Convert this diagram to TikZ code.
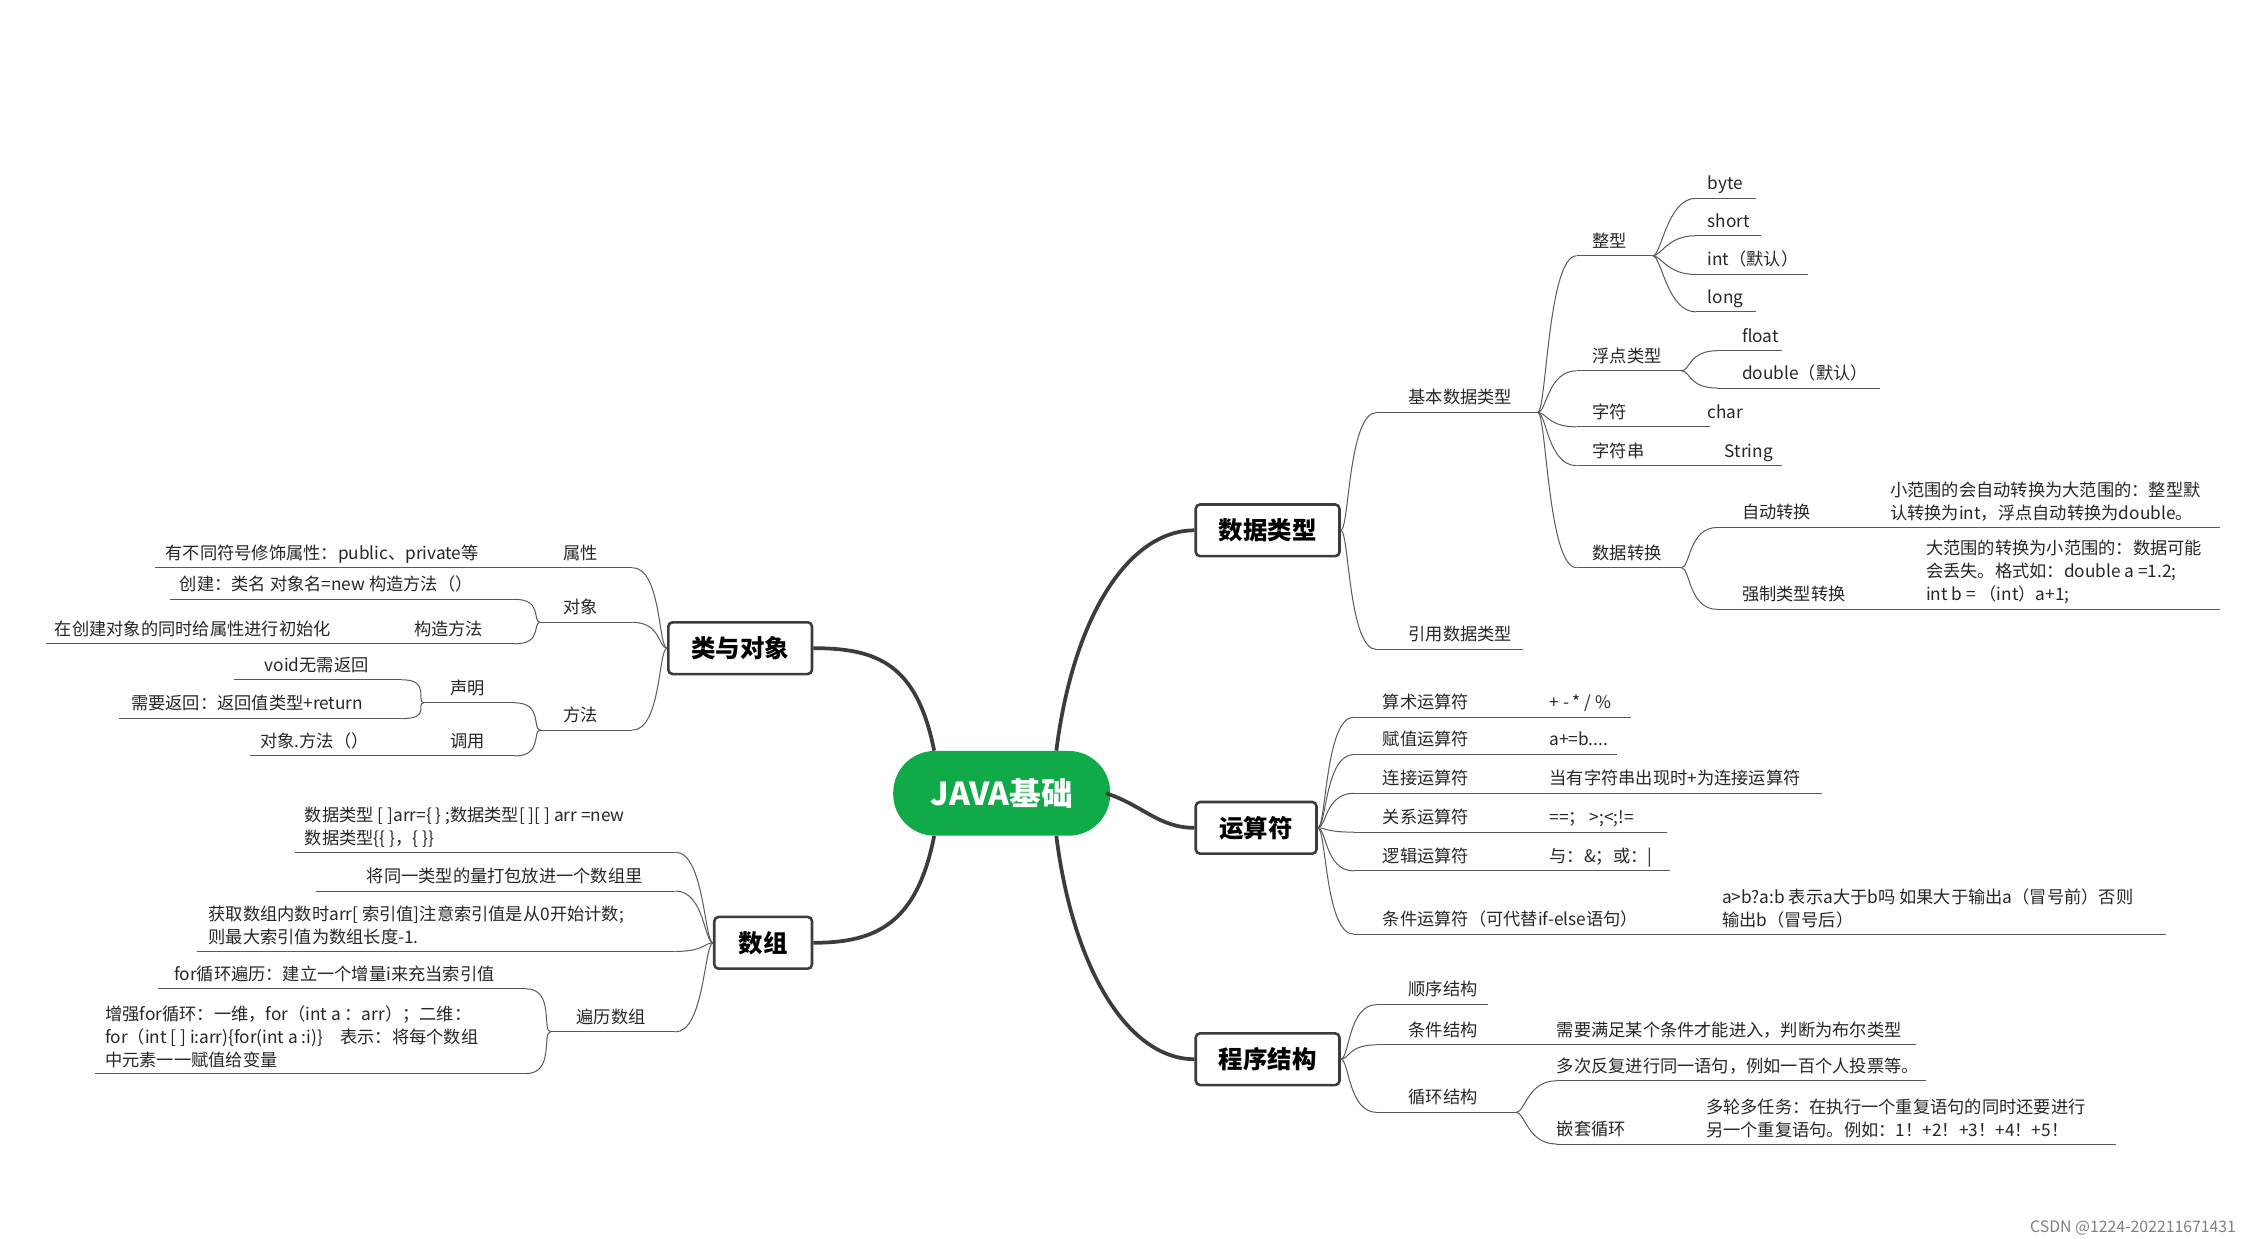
\documentclass[tikz,border=0pt]{standalone}
\usepackage{fontspec}
\setmainfont{Noto Sans CJK SC}
\definecolor{jgreen}{RGB}{16,170,72}
\definecolor{boxc}{RGB}{60,60,60}
\definecolor{linec}{RGB}{90,90,90}
\newcommand\leaf[4]{\coordinate (#1-s) at (#2,#4);\coordinate (#1-e) at (#3,#4);\draw[tl] (#1-s) -- (#1-e);}
\newcommand\brR[2]{\draw[tl] (#1) .. controls ([xshift=6]#1) and ([xshift=-20]#2) .. (#2);}
\newcommand\brL[2]{\draw[tl] (#1) .. controls ([xshift=-6]#1) and ([xshift=20]#2) .. (#2);}
\newcommand\tx[3]{\node[txt] at (#1,#2) {#3};}
\newcommand\tml[3]{\node[mtxt] at (#1,#2) {#3};}
\begin{document}
\begin{tikzpicture}[x=1pt,y=-1pt,
  tl/.style={draw=linec,line width=0.7pt},
  thick/.style={draw=boxc,line width=2.6pt},
  txt/.style={anchor=base west,inner sep=0,font=\fontsize{12}{16}\selectfont,text=black!85},
  mtxt/.style={anchor=south west,inner sep=0,align=left,font=\fontsize{12}{16}\selectfont,text=black!85},
  box/.style={draw=boxc,line width=1.8pt,rounded corners=3pt,fill=white,font=\fontsize{17}{20}\selectfont\bfseries,minimum height=36pt,inner xsep=0pt}]
\useasboundingbox (0,0) rectangle (1560,862);
% central
\node[fill=jgreen,rounded corners=29pt,minimum width=151pt,minimum height=59pt,text=white,font=\fontsize{22}{24}\selectfont\bfseries] (java) at (697,552) {JAVA基础};
\node[box,minimum width=100pt] (dt) at (882,369) {数据类型};
\node[box,minimum width=84pt] (ys) at (874,576) {运算符};
\node[box,minimum width=100pt] (cx) at (882,737) {程序结构};
\node[box,minimum width=100pt] (lo) at (515,451) {类与对象};
\node[box,minimum width=68pt] (sz) at (531,656) {数组};
\draw[thick] ([xshift=38]java.north) .. controls +(12,-95) and ([xshift=-45]dt.west) .. (dt.west);
\draw[thick] ([xshift=-3]java.east) .. controls +(25,8) and ([xshift=-25]ys.west) .. (ys.west);
\draw[thick] ([xshift=38]java.south) .. controls +(12,95) and ([xshift=-45]cx.west) .. (cx.west);
\draw[thick] ([xshift=-47]java.north) .. controls +(-12,-60) and ([xshift=45]lo.east) .. (lo.east);
\draw[thick] ([xshift=-47]java.south) .. controls +(-12,60) and ([xshift=45]sz.east) .. (sz.east);
% ---------------- 数据类型
\leaf{jb}{958}{1070}{287}\leaf{yy}{958}{1060}{452}
\brR{dt.east}{jb-s}\brR{dt.east}{yy-s}
\tx{980}{281}{基本数据类型}\tx{980}{446}{引用数据类型}
\leaf{zx}{1097}{1150}{178}\leaf{fd}{1097}{1170}{258}\leaf{zf}{1097}{1190}{297}\leaf{zfc}{1097}{1240}{324}\leaf{zh}{1097}{1170}{395}
\foreach \c in {zx,fd,zf,zfc,zh}{\brR{jb-e}{\c-s}}
\tx{1108}{172}{整型}\tx{1108}{252}{浮点类型}\tx{1108}{291}{字符}\tx{1188}{291}{char}
\tx{1108}{318}{字符串}\tx{1200}{318}{String}\tx{1108}{389}{数据转换}
\leaf{by}{1180}{1222}{138}\leaf{sh}{1180}{1225}{164}\leaf{in}{1180}{1258}{191}\leaf{lo2}{1180}{1222}{217}
\foreach \c in {by,sh,in,lo2}{\brR{zx-e}{\c-s}}
\tx{1188}{132}{byte}\tx{1188}{158}{short}\tx{1188}{185}{int（默认）}\tx{1188}{211}{long}
\leaf{fl}{1195}{1240}{244}\leaf{db}{1195}{1308}{270}
\brR{fd-e}{fl-s}\brR{fd-e}{db-s}
\tx{1212}{238}{float}\tx{1212}{264}{double（默认）}
\leaf{au}{1195}{1545}{367}\leaf{fo}{1195}{1545}{424}
\brR{zh-e}{au-s}\brR{zh-e}{fo-s}
\tx{1212}{361}{自动转换}\tx{1212}{418}{强制类型转换}
\tml{1315}{363}{小范围的会自动转换为大范围的：整型默\\认转换为int，浮点自动转换为double。}
\tml{1340}{420}{大范围的转换为小范围的：数据可能\\会丢失。格式如：double a =1.2;\\int b = （int）a+1;}
% ---------------- 运算符
\leaf{ss}{942}{1135}{499}\leaf{fz}{942}{1125}{525}\leaf{lj}{942}{1268}{552}\leaf{gx}{942}{1160}{579}\leaf{lg}{942}{1162}{606}\leaf{tj}{942}{1507}{650}
\foreach \c in {ss,fz,lj,gx,lg,tj}{\brR{ys.east}{\c-s}}
\tx{962}{493}{算术运算符}\tx{1078}{493}{+ - * / \%}
\tx{962}{519}{赋值运算符}\tx{1078}{519}{a+=b....}
\tx{962}{546}{连接运算符}\tx{1078}{546}{当有字符串出现时+为连接运算符}
\tx{962}{573}{关系运算符}\tx{1078}{573}{==； >;<;!=}
\tx{962}{600}{逻辑运算符}\tx{1078}{600}{与：\&；或：|}
\tx{962}{644}{条件运算符（可代替if-else语句）}
\tml{1198}{646}{a>b?a:b 表示a大于b吗 如果大于输出a（冒号前）否则\\输出b（冒号后）}
% ---------------- 程序结构
\leaf{sx}{958}{1035}{699}\leaf{tjj}{958}{1333}{727}\leaf{xh}{958}{1055}{774}
\foreach \c in {sx,tjj,xh}{\brR{cx.east}{\c-s}}
\tx{980}{693}{顺序结构}\tx{980}{721}{条件结构}\tx{1083}{721}{需要满足某个条件才能进入，判断为布尔类型}
\tx{980}{768}{循环结构}
\leaf{fx}{1083}{1340}{752}\leaf{qt}{1083}{1472}{796}
\brR{xh-e}{fx-s}\brR{xh-e}{qt-s}
\tx{1083}{746}{多次反复进行同一语句，例如一百个人投票等。}
\tx{1083}{790}{嵌套循环}
\tml{1187}{792}{多轮多任务：在执行一个重复语句的同时还要进行\\另一个重复语句。例如：1！+2！+3！+4！+5！}
% ---------------- 类与对象
\leaf{sx2}{440}{108}{395}\leaf{dx}{440}{376}{433}\leaf{ff}{440}{376}{508}
\foreach \c in {sx2,dx,ff}{\brL{lo.west}{\c-s}}
\tx{392}{389}{属性}\tx{392}{427}{对象}\tx{392}{502}{方法}
\tx{115}{389}{有不同符号修饰属性：public、private等}
\leaf{cj}{358}{118}{417}\leaf{gz}{358}{32}{448}
\brL{dx-e}{cj-s}\brL{dx-e}{gz-s}
\tx{125}{411}{创建：类名 对象名=new 构造方法（）}
\tx{38}{442}{在创建对象的同时给属性进行初始化}\tx{288}{442}{构造方法}
\leaf{sm}{358}{295}{489}\leaf{dy}{358}{174}{526}
\brL{ff-e}{sm-s}\brL{ff-e}{dy-s}
\tx{313}{483}{声明}\tx{181}{520}{对象.方法（）}\tx{313}{520}{调用}
\leaf{vd}{280}{163}{473}\leaf{xy}{280}{83}{500}
\brL{sm-e}{vd-s}\brL{sm-e}{xy-s}
\tx{184}{467}{void无需返回}\tx{91}{494}{需要返回：返回值类型+return}
% ---------------- 数组
\leaf{a1}{470}{205}{593}\leaf{a2}{470}{220}{620}\leaf{a3}{470}{137}{662}\leaf{a4}{470}{383}{718}
\foreach \c in {a1,a2,a3,a4}{\brL{sz.west}{\c-s}}
\tml{212}{590}{数据类型 [ ]arr=\{ \} ;数据类型[ ][ ] arr =new\\数据类型\{\{ \}，\{ \}\}}
\tx{255}{614}{将同一类型的量打包放进一个数组里}
\tml{145}{658}{获取数组内数时arr[ 索引值]注意索引值是从0开始计数;\\则最大索引值为数组长度-1.}
\tx{401}{712}{遍历数组}
\leaf{b1}{366}{110}{688}\leaf{b2}{366}{66}{747}
\brL{a4-e}{b1-s}\brL{a4-e}{b2-s}
\tx{121}{682}{for循环遍历：建立一个增量i来充当索引值}
\tml{73}{743}{增强for循环：一维，for（int a ：arr）；二维：\\for（int [ ] i:arr)\{for(int a :i)\}\quad 表示：将每个数组\\中元素一一赋值给变量}
% watermark
\node[anchor=south east,inner sep=0,font=\fontsize{11}{12}\selectfont,text=black!50] (wm) at (1556,860) {CSDN @1224-202211671431};
\end{tikzpicture}
\end{document}
